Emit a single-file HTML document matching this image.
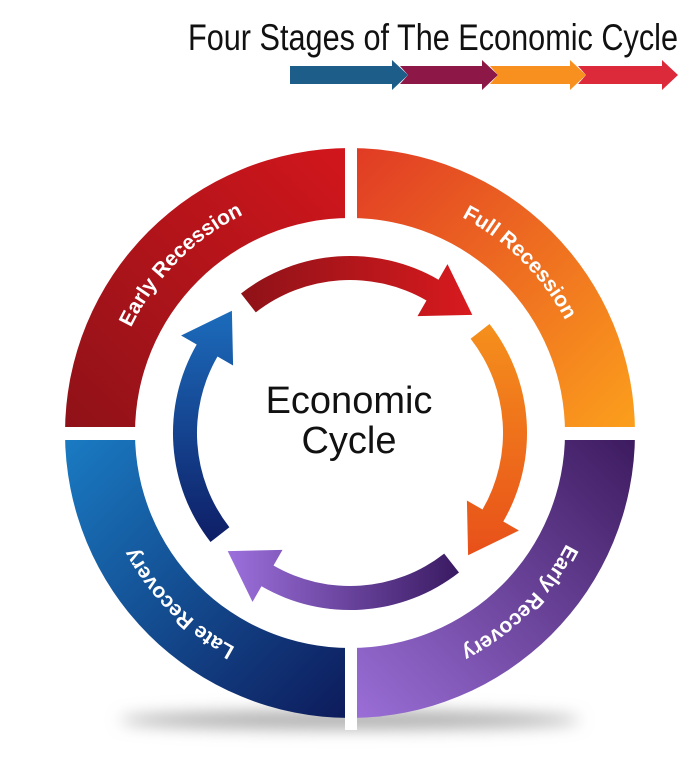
<!DOCTYPE html>
<html><head><style>body{margin:0;background:#fff}svg{display:block}</style></head>
<body>
<svg width="700" height="758" viewBox="0 0 700 758" xmlns="http://www.w3.org/2000/svg" font-family="Liberation Sans, sans-serif">
<defs>
<linearGradient id="gTL" x1="0" y1="1" x2="1" y2="0"><stop offset="0" stop-color="#8e1218"/><stop offset="1" stop-color="#d2161c"/></linearGradient>
<linearGradient id="gTR" x1="0" y1="0" x2="1" y2="1"><stop offset="0" stop-color="#e03a25"/><stop offset="1" stop-color="#fca01c"/></linearGradient>
<linearGradient id="gBR" x1="1" y1="0" x2="0" y2="1"><stop offset="0" stop-color="#3c1a5e"/><stop offset="1" stop-color="#9b6fd8"/></linearGradient>
<linearGradient id="gBL" x1="0" y1="0" x2="1" y2="1"><stop offset="0" stop-color="#1a7cc4"/><stop offset="1" stop-color="#0d1a5a"/></linearGradient>
<linearGradient id="aR" x1="0" y1="0" x2="1" y2="0"><stop offset="0" stop-color="#8e1218"/><stop offset="1" stop-color="#d81a1e"/></linearGradient>
<linearGradient id="aO" x1="0" y1="0" x2="1" y2="0"><stop offset="0" stop-color="#f5901c"/><stop offset="1" stop-color="#e8501a"/></linearGradient>
<linearGradient id="aP" x1="0" y1="0" x2="1" y2="0"><stop offset="0" stop-color="#3a1a62"/><stop offset="1" stop-color="#9c70dc"/></linearGradient>
<linearGradient id="aB" x1="0" y1="0" x2="1" y2="0"><stop offset="0" stop-color="#0e1e66"/><stop offset="1" stop-color="#1c6cbc"/></linearGradient>
<filter id="blur" x="-20%" y="-200%" width="140%" height="500%"><feGaussianBlur stdDeviation="8"/></filter>
<path id="tp" d="M107,433 A243 243 0 1 1 593,433 A243 243 0 1 1 107,433"/>
<path id="arr" d="M-109,-139.5 A177 177 0 0 1 88.5,-153.3 L97.5,-168.9 L122.3,-118.1 L67.5,-116.9 L76.5,-132.5 A153 153 0 0 0 -94.2,-120.6 Z"/>
</defs>

<text x="188" y="50" font-size="37" fill="#111" textLength="490" lengthAdjust="spacingAndGlyphs">Four Stages of The Economic Cycle</text>
<polygon points="290,66 392,66 392,60 408,75 392,90 392,84 290,84" fill="#1d5d8a"/>
<polygon points="400,66 482,66 482,60 498,75 482,90 482,84 400,84 408,75" fill="#8d1747"/>
<polygon points="490,66 570,66 570,60 586,75 570,90 570,84 490,84 498,75" fill="#f7901e"/>
<polygon points="578,66 662,66 662,60 678,75 662,90 662,84 578,84 586,75" fill="#dc2a3a"/>

<ellipse cx="350" cy="720" rx="230" ry="9" fill="#aaa" filter="url(#blur)"/>

<path d="M65,433 A285 285 0 0 1 350,148 L350,218 A215 215 0 0 0 135,433 Z" fill="url(#gTL)"/>
<path d="M350,148 A285 285 0 0 1 635,433 L565,433 A215 215 0 0 0 350,218 Z" fill="url(#gTR)"/>
<path d="M635,433 A285 285 0 0 1 350,718 L350,648 A215 215 0 0 0 565,433 Z" fill="url(#gBR)"/>
<path d="M350,718 A285 285 0 0 1 65,433 L135,433 A215 215 0 0 0 350,648 Z" fill="url(#gBL)"/>
<rect x="345" y="140" width="12" height="590" fill="#fff"/>
<rect x="55" y="427" width="590" height="13" fill="#fff"/>

<g font-size="21" font-weight="bold" fill="#fff" text-anchor="middle">
<text><textPath href="#tp" startOffset="190">Early Recession</textPath></text>
<text><textPath href="#tp" startOffset="572">Full Recession</textPath></text>
<text><textPath href="#tp" startOffset="954">Early Recovery</textPath></text>
<text><textPath href="#tp" startOffset="1336">Late Recovery</textPath></text>
</g>

<g transform="translate(350,433)">
<use href="#arr" fill="url(#aR)"/>
<g transform="rotate(90)"><use href="#arr" fill="url(#aO)"/></g>
<g transform="rotate(180)"><use href="#arr" fill="url(#aP)"/></g>
<g transform="rotate(270)"><use href="#arr" fill="url(#aB)"/></g>
</g>

<text x="349" y="413" font-size="38" text-anchor="middle" fill="#111">Economic</text>
<text x="349" y="453" font-size="38" text-anchor="middle" fill="#111">Cycle</text>
</svg>
</body></html>
